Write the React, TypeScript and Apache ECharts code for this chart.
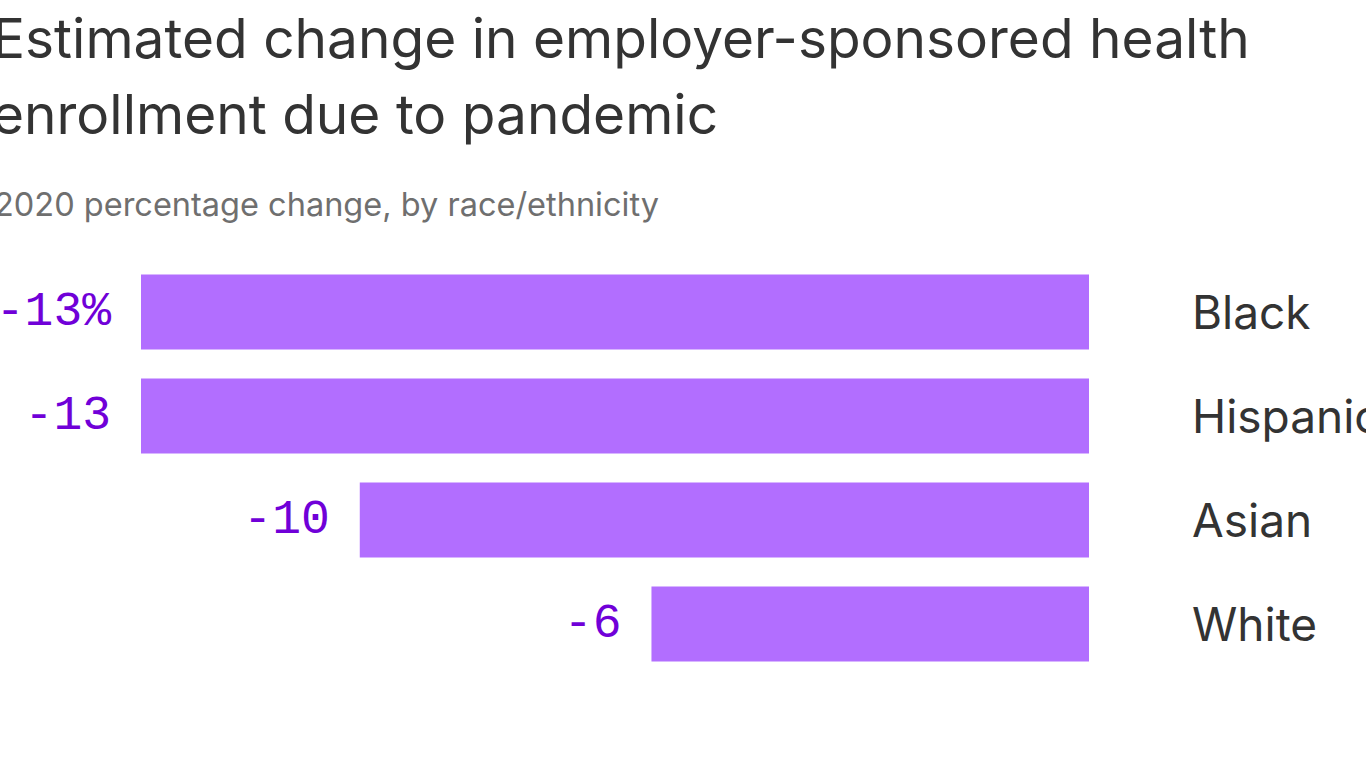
import React, { useEffect, useRef } from "react";
import * as echarts from "echarts";

const categories = ["Black", "Hispanic", "Asian", "White"];
const values = [-13, -13, -10, -6];
const valueLabels = ["-13%", "-13", "-10", "-6"];
const titleLines = ["Estimated change in employer-sponsored health", "enrollment due to pandemic"];
const subtitle = "2020 percentage change, by race/ethnicity";

export default function App() {
  const ref = useRef<HTMLDivElement>(null);
  useEffect(() => {
    const chart = echarts.init(ref.current!, null, { renderer: "svg" });
    chart.setOption({
      animation: false,
      backgroundColor: "#ffffff",
      graphic: [
        {
          type: "text",
          x: -8,
          y: 10,
          style: { text: titleLines[0], font: "normal 55px Inter", fill: "#333333" },
        },
        {
          type: "text",
          x: -8,
          y: 86,
          style: { text: titleLines[1], font: "normal 55px Inter", fill: "#333333" },
        },
        {
          type: "text",
          x: -6,
          y: 188,
          style: { text: subtitle, font: "normal 32.5px Inter", fill: "#6f6f6f" },
        },
      ],
      grid: {
        left: 141,
        right: 277,
        top: 260,
        bottom: 92,
        containLabel: false,
        outerBoundsMode: "none",
      },
      xAxis: {
        type: "value",
        min: -13,
        max: 0,
        show: false,
      },
      yAxis: {
        type: "category",
        data: categories,
        inverse: true,
        position: "right",
        axisLine: { show: false },
        axisTick: { show: false },
        splitLine: { show: false },
        axisLabel: {
          margin: 103,
          align: "left",
          fontFamily: "Inter",
          fontSize: 46,
          color: "#333333",
        },
      },
      series: [
        {
          type: "bar",
          data: values,
          barWidth: 75,
          itemStyle: { color: "#b26eff" },
          label: {
            show: true,
            position: "left",
            distance: 30,
            formatter: (p: any) => valueLabels[p.dataIndex],
            fontFamily: "Liberation Mono",
            fontSize: 48,
            color: "#7000d8",
          },
        },
      ],
    });
    return () => chart.dispose();
  }, []);
  return (
    <div
      ref={ref}
      style={{ position: "absolute", left: 0, top: 0, width: 1366, height: 768 }}
    />
  );
}
